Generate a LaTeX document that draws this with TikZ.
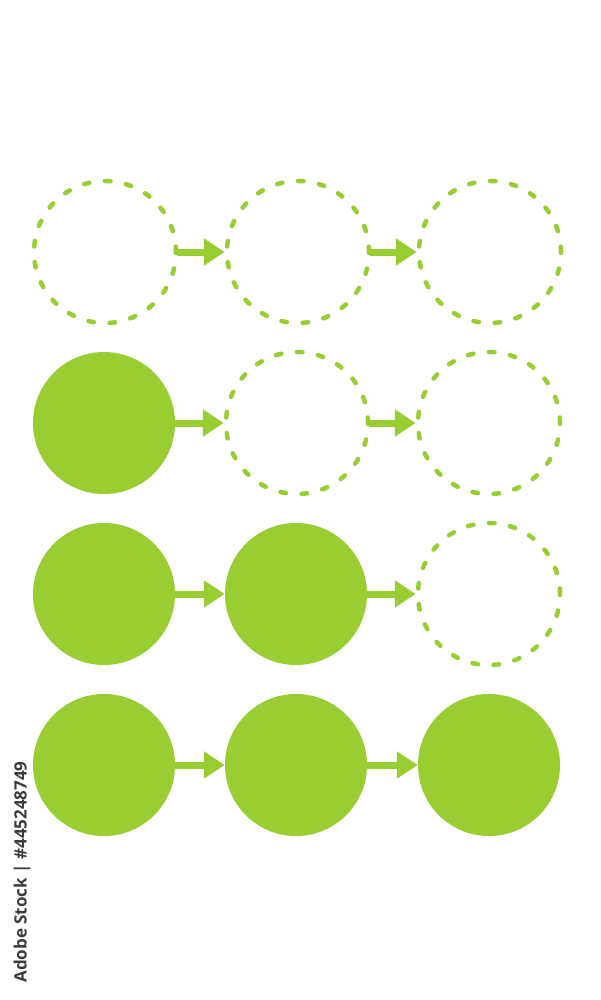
\documentclass[tikz,border=0pt]{standalone}
\usepackage{fontspec}
\setsansfont{Open Sans}
\usetikzlibrary{arrows.meta}
\definecolor{leaf}{RGB}{154,205,50}
\definecolor{wm}{RGB}{60,60,60}
\tikzset{
  x=1pt, y=-1pt,
  emptycircle/.style={circle, minimum size=142pt, inner sep=0pt, draw=leaf, line width=4.5pt, line cap=round, dash pattern=on 5.5pt off 15.7pt},
  fullcircle/.style={circle, minimum size=142pt, inner sep=0pt, fill=leaf},
  link/.style={draw=leaf, line width=7pt, -{Triangle[length=21pt,width=26pt]}, shorten <=-1pt}
}
\begin{document}
\begin{tikzpicture}
\useasboundingbox (0,0) rectangle (600,1000);
\fill[white] (0,0) rectangle (600,1000);
% row 1
\node[emptycircle] (c11) at (105,252) {};
\node[emptycircle] (c12) at (298,252) {};
\node[emptycircle] (c13) at (490,252) {};
% row 2
\node[fullcircle] (c21) at (104,423) {};
\node[emptycircle] (c22) at (297,423) {};
\node[emptycircle] (c23) at (489,423) {};
% row 3
\node[fullcircle] (c31) at (104,594) {};
\node[fullcircle] (c32) at (296,594) {};
\node[emptycircle] (c33) at (489,594) {};
% row 4
\node[fullcircle] (c41) at (104,765) {};
\node[fullcircle] (c42) at (296,765) {};
\node[fullcircle] (c43) at (489,765) {};
% arrows
\foreach \r in {1,2,3,4}{
  \draw[link] (c\r1.east) -- (c\r2.west);
  \draw[link] (c\r2.east) -- (c\r3.west);
}
% vertical credit text
\node[rotate=90, text=wm, font=\sffamily\bfseries\fontsize{17}{17}\selectfont, inner sep=0pt] (credit) at (22,872) {Adobe Stock | \#445248749};
\end{tikzpicture}
\end{document}
